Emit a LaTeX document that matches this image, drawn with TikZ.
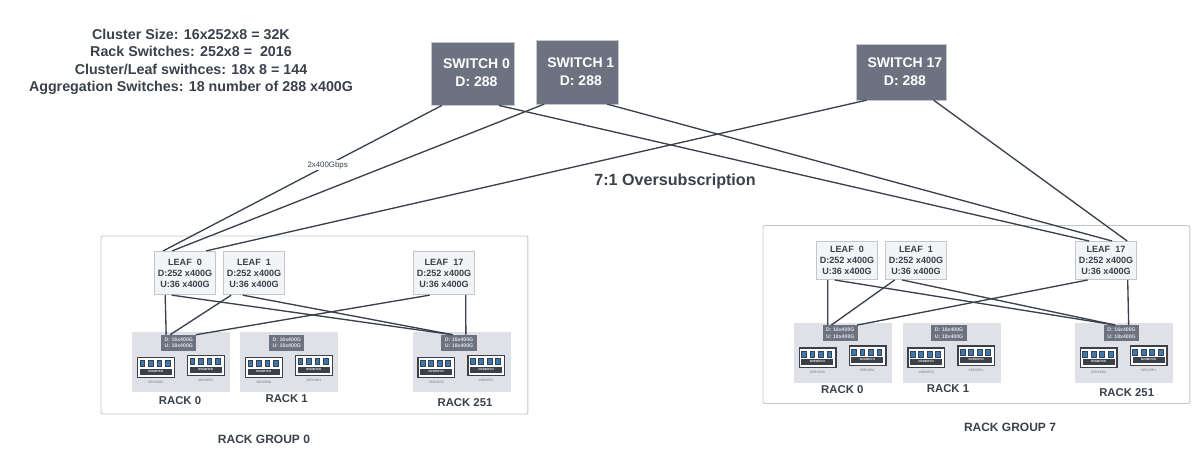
\documentclass[tikz,border=0pt]{standalone}
\usepackage{fontspec}
\setmainfont{Liberation Sans}
\usetikzlibrary{calc}
\definecolor{ink}{HTML}{3A414B}
\definecolor{slab}{HTML}{6C7280}
\definecolor{pale}{HTML}{DFE1E6}
\definecolor{leaffill}{HTML}{F3F4F6}
\definecolor{edgegray}{HTML}{C3C6CB}
\definecolor{nvblue}{HTML}{3B78B0}
\newcommand{\fs}[2]{\fontsize{#1}{#2}\selectfont\bfseries}
\newcommand{\serverunit}[4]{%
  \begin{scope}[shift={(#2,#3)}]
    \node[srv] (#1) at (0,0) {};
    \foreach \k in {0,1,2,3}
      \filldraw[draw=ink,fill=nvblue,line width=.6pt] ({3+\k*8.5},3.6) rectangle +(4.6,6);
    \node[srvbar] (#1b) at (18.8,14.7) {NVSWITCH};
    \node[srvtag] (#1t) at (18.8,25) {#4};
  \end{scope}}
\newcommand{\rackunit}[3]{%
  \begin{scope}[shift={(#2,#3)}]
    \node[rack] (#1) at (0,0) {};
    \node[port] (#1p) at (46.8,11) {D: 16x400G\\U: 18x400G};
    \serverunit{#1l}{5}{25}{SERVER0}
    \serverunit{#1r}{55}{23}{SERVER1}
  \end{scope}}
\begin{document}
\begin{tikzpicture}[
  x=.75pt, y=-.75pt, text=ink,
  group/.style={draw=edgegray,fill=white,rounded corners=1.5pt,line width=.7pt,anchor=north west,inner sep=0pt},
  sw/.style={draw=edgegray,fill=slab,line width=.4pt,inner sep=0pt},
  swtxt/.style={text=white,align=center,yshift=.7pt,font=\fs{10.5}{13.4}},
  leaf/.style={draw=edgegray,fill=leaffill,line width=.7pt,align=center,inner sep=0pt,minimum width=45.5pt,font=\fs{6.8}{8.2}},
  rack/.style={draw=none,fill=pale,anchor=north west,inner sep=0pt,minimum width=73.5pt,minimum height=45pt},
  port/.style={fill=slab,text=pale,align=left,inner sep=0pt,minimum width=26.5pt,minimum height=12pt,font=\fs{3.9}{4.7}},
  srv/.style={draw=ink,fill=white,line width=1pt,anchor=north west,inner sep=0pt,minimum width=27.5pt,minimum height=14.8pt},
  srvbar/.style={fill=ink,text=white,inner sep=0pt,minimum width=24pt,minimum height=4.4pt,font=\fs{2.1}{2.5}},
  srvtag/.style={text=slab,inner sep=0pt,font=\fontsize{2.4}{3}\selectfont},
  lbl/.style={inner sep=0pt,font=\fs{8.5}{10}},
  grp/.style={inner sep=0pt,font=\fs{9}{10}},
  lnk/.style={draw=ink,line width=1pt}
]
\useasboundingbox (0,0) rectangle (1200,462);

\node[group,minimum width=320.2pt,minimum height=133.5pt] (groupa) at (100.5,235.5) {};
\node[group,minimum width=320.2pt,minimum height=133.5pt] (groupb) at (762.5,225) {};

\node[inner sep=0pt,align=center,font=\fs{10.7}{13}] (summary) at (191,62)
  {Cluster Size: 16x252x8 = 32K\\Rack Switches: 252x8 =\ \ 2016\\Cluster/Leaf swithces: 18x 8 = 144\\Aggregation Switches: 18 number of 288 x400G};

\node[sw,minimum width=62pt,minimum height=47.5pt,label={[swtxt,xshift=3pt]center:SWITCH 0\\D: 288}] (swa) at (472.5,73.5) {};
\node[sw,minimum width=61.5pt,minimum height=47.5pt,label={[swtxt,xshift=2.5pt]center:SWITCH 1\\D: 288}] (swb) at (577.5,72.2) {};
\node[sw,minimum width=68pt,minimum height=41.5pt,label={[swtxt,xshift=2.8pt]center:SWITCH 17\\D: 288}] (swr) at (901.2,72.2) {};

\node[leaf,minimum height=32.5pt] (aleafa) at (185,273) {LEAF\ \ 0\\D:252 x400G\\U:36 x400G};
\node[leaf,minimum height=32.5pt] (aleafb) at (254,273) {LEAF\ \ 1\\D:252 x400G\\U:36 x400G};
\node[leaf,minimum height=32.5pt] (aleafr) at (444,273) {LEAF\ \ 17\\D:252 x400G\\U:36 x400G};
\node[leaf,minimum height=28.5pt] (bleafa) at (847,260.5) {LEAF\ \ 0\\D:252 x400G\\U:36 x400G};
\node[leaf,minimum height=28.5pt] (bleafb) at (916,260.5) {LEAF\ \ 1\\D:252 x400G\\U:36 x400G};
\node[leaf,minimum height=28.5pt] (bleafr) at (1106,260.5) {LEAF\ \ 17\\D:252 x400G\\U:36 x400G};

\rackunit{arackz}{132}{332}
\rackunit{arackb}{240}{332}
\rackunit{arackr}{412.3}{332}
\rackunit{brackz}{793.5}{322.3}
\rackunit{brackb}{902.3}{322.3}
\rackunit{brackr}{1074.8}{322.3}

\node[lbl] (aname) at (180,400.7) {RACK 0};
\node[lbl] (bname) at (286.7,399) {RACK 1};
\node[lbl] (rname) at (465,403) {RACK 251};
\node[lbl] (cname) at (842.3,390) {RACK 0};
\node[lbl] (dname) at (948,388.7) {RACK 1};
\node[lbl] (ename) at (1126.7,392.7) {RACK 251};
\node[grp] (groupaname) at (264,439) {RACK GROUP 0};
\node[grp] (groupbname) at (1010,427) {RACK GROUP 7};
\node[inner sep=0pt,font=\fs{12.1}{13}] (oversub) at (675,181) {7:1 Oversubscription};

\draw[lnk] ($(swa.south west)+(11,0)$) -- node[pos=.41,fill=white,inner xsep=.6pt,inner ysep=.8pt,font=\fontsize{5.9}{7}\selectfont] (linklbl) {2x400Gbps} ($(aleafa.north west)+(9,0)$);
\draw[lnk] ($(swb.south west)+(8,0)$) -- ($(aleafa.north west)+(18,0)$);
\draw[lnk] ($(swr.south west)+(11,0)$) -- ($(aleafa.north west)+(52,0)$);
\draw[lnk] ($(swa.south west)+(68,0)$) -- ($(bleafr.north west)+(14,0)$);
\draw[lnk] ($(swb.south west)+(71,0)$) -- ($(bleafr.north west)+(37,0)$);
\draw[lnk] ($(swr.south west)+(78,0)$) -- ($(bleafr.north west)+(52,0)$);

\draw[lnk] ($(aleafa.south west)+(11,0)$) -- ($(arackzp.north west)+(5.3,0)$);
\draw[lnk] ($(aleafb.south west)+(8,0)$) -- ($(arackzp.north west)+(9.3,0)$);
\draw[lnk] ($(aleafr.south west)+(16.5,0)$) -- ($(arackzp.north west)+(35,0)$);
\draw[lnk] ($(aleafa.south west)+(17.5,0)$) -- ($(arackrp.north west)+(11.5,0)$);
\draw[lnk] ($(aleafb.south west)+(19.5,0)$) -- ($(arackrp.north west)+(11.5,0)$);
\draw[lnk] ($(aleafr.south west)+(52.5,0)$) -- ($(arackrp.north west)+(24.7,0)$);

\draw[lnk] ($(bleafa.south west)+(11.5,0)$) -- ($(brackzp.north west)+(5.3,0)$);
\draw[lnk] ($(bleafb.south west)+(9.5,0)$) -- ($(brackzp.north west)+(9,0)$);
\draw[lnk] ($(bleafr.south west)+(12.5,0)$) -- ($(brackzp.north west)+(35,0)$);
\draw[lnk] ($(bleafa.south west)+(18.5,0)$) -- ($(brackrp.north west)+(11.5,0)$);
\draw[lnk] ($(bleafb.south west)+(17,0)$) -- ($(brackrp.north west)+(11.5,0)$);
\draw[lnk] ($(bleafr.south west)+(52.5,0)$) -- ($(brackrp.north west)+(25,0)$);
\end{tikzpicture}
\end{document}
